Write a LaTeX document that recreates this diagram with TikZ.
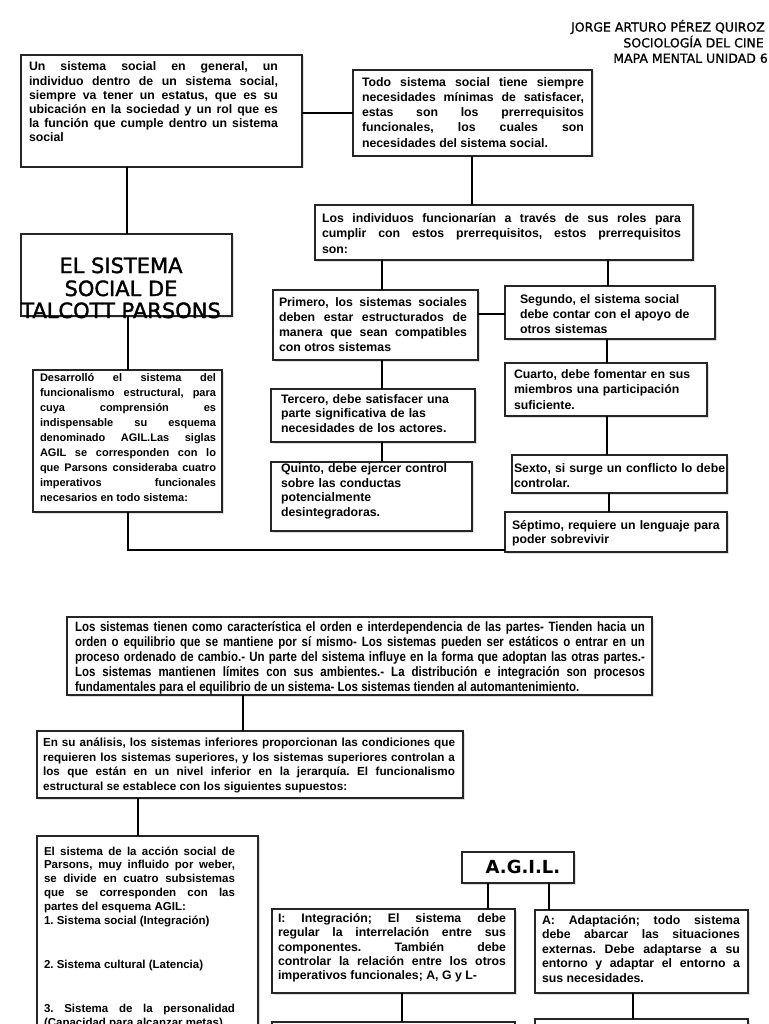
\documentclass[tikz,border=0pt]{standalone}
\usepackage{fontspec}
\setmainfont{Liberation Sans}
\newfontfamily\hdrfont{DejaVu Sans}[BoldFont={DejaVu Sans}, BoldFeatures={FakeBold=1}]
\newfontfamily\ttlfont{DejaVu Sans}[BoldFont={DejaVu Sans}, BoldFeatures={FakeBold=1.5}]
\newfontfamily\agilfont{DejaVu Sans}
\newfontfamily\narrowfont{Liberation Sans}[FakeStretch=0.85]
\usetikzlibrary{shadows}
\tolerance=9999 \hbadness=10000 \hyphenpenalty=10000 \exhyphenpenalty=10000
\frenchspacing
\newcommand\fs[2]{\fontsize{#1pt}{#2pt}\selectfont\bfseries\frenchspacing}
\newcommand\mybox[5]{\node[box, minimum width={#4-#2}, minimum height={#5-#3}] (#1) at (#2,#3) {};}
\tikzset{
  box/.style={draw=black!85, line width=1.2pt, fill=white, inner sep=0pt, outer sep=0pt,
    anchor=north west, drop shadow={shadow xshift=1.5pt, shadow yshift=-1.5pt, fill=black!25}},
  txt/.style={anchor=base west, inner sep=0pt, outer sep=0pt, align=justify},
  rag/.style={anchor=base west, inner sep=0pt, outer sep=0pt, align=left},
  conn/.style={line width=2.2pt, black},
  hdr/.style={anchor=base east, inner sep=0pt, font=\hdrfont\bfseries\fontsize{12.5pt}{15pt}\selectfont},
  ttl/.style={anchor=base, inner sep=0pt, font=\ttlfont\bfseries\fontsize{21pt}{23pt}\selectfont}
}
\begin{document}
\begin{tikzpicture}[x=1pt,y=-1pt]
\useasboundingbox (0,0) rectangle (768,1024);
\clip (0,0) rectangle (768,1024);
\fill[white] (0,0) rectangle (768,1024);

% header
\node[hdr] (h1) at (765,31.6) {JORGE ARTURO PÉREZ QUIROZ};
\node[hdr] (h2) at (764,47.4) {SOCIOLOGÍA DEL CINE};
\node[hdr] (h3) at (768,62.8) {MAPA MENTAL UNIDAD 6};

% boxes (upper part)
\mybox{b1}{21}{55}{302}{167}
\mybox{b2}{353}{70}{592}{156}
\mybox{b3}{315}{205}{693}{260}
\mybox{b4}{273}{290}{478}{360}
\mybox{b5}{505}{286}{715}{339}
\mybox{b6}{505}{363}{707}{416}
\mybox{b7}{271}{389}{475}{442}
\mybox{b8}{271}{462}{472}{531}
\mybox{b9}{512}{455}{727}{493}
\mybox{b10}{505}{512}{727}{552}
\mybox{title}{21}{234}{232}{316}
\mybox{b11}{33}{370}{222}{512}

% connectors (upper part)
\draw[conn] (b1.east |- 0,113) -- (b2.west |- 0,113);
\draw[conn] (472,0 |- b2.south) -- (472,0 |- b3.north);
\draw[conn] (382,0 |- b3.south) -- (382,0 |- b4.north);
\draw[conn] (608,0 |- b3.south) -- (608,0 |- b5.north);
\draw[conn] (b4.east |- 0,314) -- (b5.west |- 0,314);
\draw[conn] (607,0 |- b5.south) -- (607,0 |- b6.north);
\draw[conn] (382,0 |- b4.south) -- (382,0 |- b7.north);
\draw[conn] (382,0 |- b7.south) -- (382,0 |- b8.north);
\draw[conn] (607,0 |- b6.south) -- (607,0 |- b9.north);
\draw[conn] (609,0 |- b9.south) -- (609,0 |- b10.north);
\draw[conn] (127,0 |- b1.south) -- (127,0 |- title.north);
\draw[conn] (128,0 |- title.south) -- (128,0 |- b11.north);
\draw[conn] (128,0 |- b11.south) |- (b10.west |- 0,550);

% texts (upper part)
\node[txt, text width=249pt, font={\fs{12.3}{14.2}}] (t1) at (29,71) {Un sistema social en general, un\linebreak individuo dentro de un sistema social,\linebreak siempre va tener un estatus, que es su\linebreak ubicación en la sociedad y un rol que es\linebreak la función que cumple dentro un sistema\linebreak social};
\node[txt, text width=222pt, font={\fs{12.3}{15.2}}] (t2) at (362,86.4) {Todo sistema social tiene siempre\linebreak necesidades mínimas de satisfacer,\linebreak estas son los prerrequisitos\linebreak funcionales, los cuales son\linebreak necesidades del sistema social.};
\node[txt, text width=359pt, font={\fs{12.3}{15.5}}] (t3) at (322,222.4) {Los individuos funcionarían a través de sus roles para\linebreak cumplir con estos prerrequisitos, estos prerrequisitos\linebreak son:};
\node[txt, text width=188pt, font={\fs{12.3}{15}}] (t4) at (279,306.4) {Primero, los sistemas sociales\linebreak deben estar estructurados de\linebreak manera que sean compatibles\linebreak con otros sistemas};
\node[rag, text width=190pt, font={\fs{12.3}{15}}] (t5) at (520,303.4) {Segundo, el sistema social\\ debe contar con el apoyo de\\ otros sistemas};
\node[rag, text width=190pt, font={\fs{12.3}{15.5}}] (t6) at (514,378.4) {Cuarto, debe fomentar en sus\\ miembros una participación\\ suficiente.};
\node[rag, text width=190pt, font={\fs{12.3}{14.5}}] (t7) at (281,403.4) {Tercero, debe satisfacer una\\ parte significativa de las\\ necesidades de los actores.};
\node[rag, text width=190pt, font={\fs{12.3}{14.7}}] (t8) at (281,472.4) {Quinto, debe ejercer control\\ sobre las conductas\\ potencialmente\\ desintegradoras.};
\node[rag, text width=225pt, font={\fs{12.3}{15}}] (t9) at (514,472.4) {Sexto, si surge un conflicto lo debe\\ controlar.};
\node[rag, text width=225pt, font={\fs{12.3}{14.5}}] (t10) at (512,529.4) {Séptimo, requiere un lenguaje para\\ poder sobrevivir};
\node[ttl] (tt1) at (121,273) {EL SISTEMA};
\node[ttl] (tt2) at (121,296) {SOCIAL DE};
\node[ttl] (tt3) at (121,318) {TALCOTT PARSONS};
\node[txt, text width=176pt, font={\fs{11}{15}}] (t11) at (40,381) {Desarrolló el sistema del\linebreak funcionalismo estructural, para\linebreak cuya comprensión es\linebreak indispensable su esquema\linebreak denominado AGIL.Las siglas\linebreak AGIL se corresponden con lo\linebreak que Parsons consideraba cuatro\linebreak imperativos funcionales\linebreak necesarios en todo sistema:};

% lower part boxes
\mybox{bA}{67}{617}{652}{695}
\mybox{bB}{37}{731}{463}{798}
\mybox{bC}{37}{836}{258}{1060}
\mybox{agil}{462}{852}{574}{883}
\mybox{bI}{272}{909}{515}{993}
\mybox{bAd}{535}{910}{748}{993}
\mybox{bL}{272}{1022}{515}{1060}
\mybox{bR}{535}{1019}{748}{1060}

% lower connectors
\draw[conn] (243,0 |- bA.south) -- (243,0 |- bB.north);
\draw[conn] (138,0 |- bB.south) -- (138,0 |- bC.north);
\draw[conn] (488,0 |- agil.south) -- (488,0 |- bI.north);
\draw[conn] (549,0 |- agil.south) -- (549,0 |- bAd.north);
\draw[conn] (402,0 |- bI.south) -- (402,0 |- bL.north);
\draw[conn] (633,0 |- bAd.south) -- (633,0 |- bR.north);

% lower texts
\node[txt, text width=570pt, font={\narrowfont\fs{13.5}{15}}] (tA) at (75,631.9) {Los sistemas tienen como característica el orden e interdependencia de las partes- Tienden hacia un\linebreak orden o equilibrio que se mantiene por sí mismo- Los sistemas pueden ser estáticos o entrar en un\linebreak proceso ordenado de cambio.- Un parte del sistema influye en la forma que adoptan las otras partes.-\linebreak Los sistemas mantienen límites con sus ambientes.- La distribución e integración son procesos\linebreak fundamentales para el equilibrio de un sistema- Los sistemas tienden al automantenimiento.};
\node[txt, text width=412pt, font={\fs{11.7}{14.7}}] (tB) at (43,746.3) {En su análisis, los sistemas inferiores proporcionan las condiciones que\linebreak requieren los sistemas superiores, y los sistemas superiores controlan a\linebreak los que están en un nivel inferior en la jerarquía. El funcionalismo\linebreak estructural se establece con los siguientes supuestos:};
\node[txt, text width=191pt, font={\fs{11.5}{13.9}}] (tC) at (44,855) {El sistema de la acción social de\linebreak Parsons, muy influido por weber,\linebreak se divide en cuatro subsistemas\linebreak que se corresponden con las\linebreak partes del esquema AGIL:\\ 1. Sistema social (Integración)\\[30pt] 2. Sistema cultural (Latencia)\\[30pt] 3. Sistema de la personalidad\linebreak (Capacidad para alcanzar metas)};
\node[anchor=base, inner sep=0pt, font={\agilfont\bfseries\fontsize{18pt}{20pt}\selectfont}] (tg) at (523,873.5) {A.G.I.L.};
\node[txt, text width=228pt, font={\fs{12.3}{14.3}}] (tI) at (278,922.4) {I: Integración; El sistema debe\linebreak regular la interrelación entre sus\linebreak componentes. También debe\linebreak controlar la relación entre los otros\linebreak imperativos funcionales; A, G y L-};
\node[txt, text width=198pt, font={\fs{12.3}{14.5}}] (tAd) at (542,924.4) {A: Adaptación; todo sistema\linebreak debe abarcar las situaciones\linebreak externas. Debe adaptarse a su\linebreak entorno y adaptar el entorno a\linebreak sus necesidades.};
\end{tikzpicture}
\end{document}
